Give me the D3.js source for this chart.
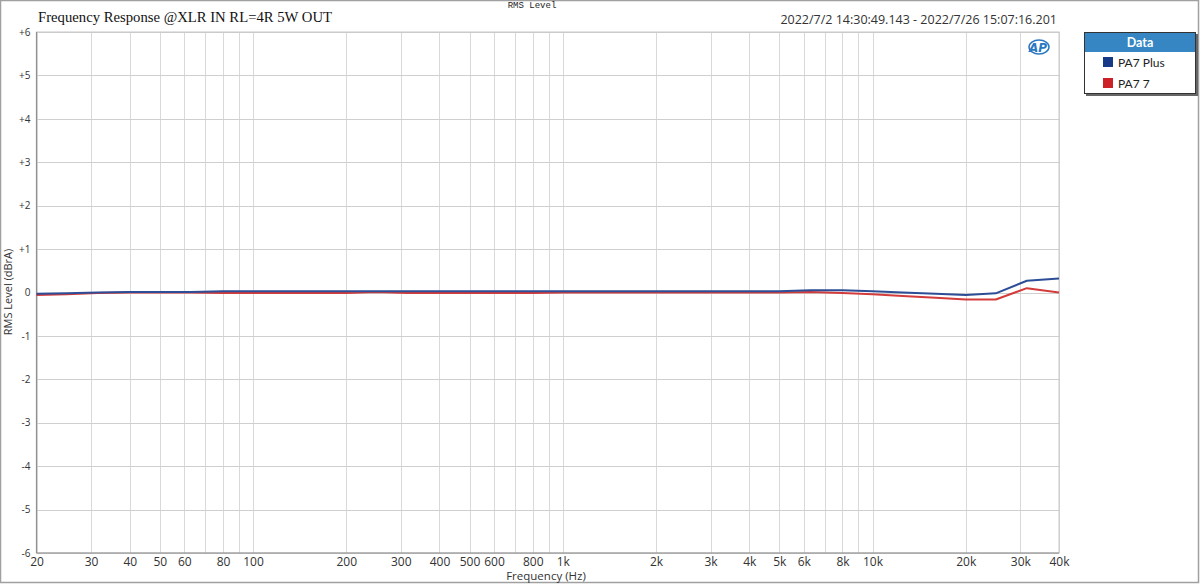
<!DOCTYPE html>
<html><head><meta charset="utf-8">
<script src="https://cdn.jsdelivr.net/npm/d3@7"></script>
<style>
html,body{margin:0;padding:0;background:#fff;}
svg{display:block;}
</style></head>
<body>
<svg id="chart" width="1200" height="585"></svg>
<script>
const freqs = [20,25,31.5,40,50,63,80,100,125,160,200,250,315,400,500,630,800,1000,1250,1600,2000,2500,3150,4000,5000,6300,8000,10000,12500,16000,20000,25000,31500,40000];
const pa7Plus = [-0.03,-0.02,0.0,0.01,0.01,0.01,0.03,0.03,0.03,0.03,0.03,0.03,0.03,0.03,0.03,0.03,0.03,0.03,0.03,0.03,0.03,0.03,0.03,0.03,0.03,0.05,0.05,0.03,0.0,-0.03,-0.06,-0.02,0.27,0.32];
const pa77 = [-0.06,-0.04,-0.01,0.0,0.0,0.0,-0.01,-0.01,-0.01,-0.01,-0.01,0.01,-0.01,-0.01,-0.01,-0.01,-0.01,0.0,0.0,0.0,0.0,0.0,0.0,0.0,0.0,0.01,-0.01,-0.04,-0.08,-0.12,-0.16,-0.16,0.10,0.0];
const xTicks = [20,30,40,50,60,80,100,200,300,400,500,600,800,1000,2000,3000,4000,5000,6000,8000,10000,20000,30000,40000];
const xTickLabels = ["20","30","40","50","60","80","100","200","300","400","500","600","800","1k","2k","3k","4k","5k","6k","8k","10k","20k","30k","40k"];
const xGrid = [20,30,40,50,60,70,80,90,100,200,300,400,500,600,700,800,900,1000,2000,3000,4000,5000,6000,7000,8000,9000,10000,20000,30000,40000];
const yTicks = [-6,-5,-4,-3,-2,-1,0,1,2,3,4,5,6];
const yTickLabels = ["-6","-5","-4","-3","-2","-1","0","+1","+2","+3","+4","+5","+6"];
const seriesNames = ["PA7 Plus","PA7 7"];
const seriesColors = ["#2d4e96","#d43b3b"];
const legendColors = ["#173a86","#cc2127"];

const svg = d3.select("#chart");
const L=36.5, R=1059, T=32, B=553;
const x = d3.scaleLog().domain([20,40000]).range([L,R]);
const y = d3.scaleLinear().domain([-6,6]).range([B,T]);

// outer frame
svg.append("rect").attr("x",0.5).attr("y",0.5).attr("width",1198).attr("height",582)
  .attr("fill","#fff").attr("stroke","#a0a0a0").attr("stroke-width",1.5);

// grid
const g = svg.append("g");
g.selectAll(".vg").data(xGrid).join("line")
  .attr("x1",d=>Math.round(x(d))+0.5).attr("x2",d=>Math.round(x(d))+0.5)
  .attr("y1",T).attr("y2",B).attr("stroke","#d9d9d9").attr("stroke-width",1);
g.selectAll(".hg").data(yTicks).join("line")
  .attr("x1",L).attr("x2",R)
  .attr("y1",d=>Math.round(y(d))+0.5).attr("y2",d=>Math.round(y(d))+0.5)
  .attr("stroke","#cfcfcf").attr("stroke-width",1);

// plot border
svg.append("rect").attr("x",L).attr("y",T).attr("width",R-L).attr("height",B-T)
  .attr("fill","none").attr("stroke","#c8c8c8");
svg.append("line").attr("x1",L).attr("x2",L).attr("y1",T).attr("y2",B).attr("stroke","#909090").attr("stroke-width",1.2);
svg.append("line").attr("x1",L).attr("x2",R).attr("y1",B).attr("y2",B).attr("stroke","#909090").attr("stroke-width",1.2);

// axes
const xAxis = d3.axisBottom(x).tickValues(xTicks).tickFormat((d,i)=>xTickLabels[i]).tickSize(0).tickPadding(4);
const xa = svg.append("g").attr("transform",`translate(0,${B})`).call(xAxis);
xa.select(".domain").remove();
xa.selectAll("text").attr("font-family","'Open Sans', 'Noto Sans', sans-serif").attr("font-size",12).attr("fill","#333");

const yAxis = d3.axisLeft(y).tickValues(yTicks).tickFormat((d,i)=>yTickLabels[i]).tickSize(0).tickPadding(6);
const ya = svg.append("g").attr("transform",`translate(${L},0)`).call(yAxis);
ya.select(".domain").remove();
ya.selectAll("text").attr("font-family","'Open Sans', 'Noto Sans', sans-serif").attr("font-size",10).attr("fill","#333");

// lines
const line = d3.line().x((d,i)=>x(freqs[i])).y(d=>y(d));
[pa77, pa7Plus].forEach((s,k)=>{
  const idx = k===0?1:0;
  svg.append("path").datum(s).attr("d",line).attr("fill","none")
    .attr("stroke",seriesColors[idx]).attr("stroke-width",2).attr("stroke-linejoin","round");
});

// titles
svg.append("text").attr("x",38).attr("y",22).text("Frequency Response @XLR IN RL=4R 5W OUT")
  .attr("font-family","'Liberation Serif', 'Times New Roman', serif").attr("font-size",14.7).attr("fill","#111");
svg.append("text").attr("x",532).attr("y",8).attr("text-anchor","middle").text("RMS Level")
  .attr("font-family","'Liberation Mono', 'DejaVu Sans Mono', monospace").attr("font-size",9).attr("fill","#222");
svg.append("text").attr("x",1057).attr("y",24).attr("text-anchor","end").text("2022/7/2 14:30:49.143 - 2022/7/26 15:07:16.201")
  .attr("font-family","'Open Sans', 'Noto Sans', sans-serif").attr("font-size",12.5).attr("fill","#333");
svg.append("text").attr("x",546).attr("y",580).attr("text-anchor","middle").text("Frequency (Hz)")
  .attr("font-family","'Open Sans', 'Noto Sans', sans-serif").attr("font-size",11.5).attr("fill","#333");
svg.append("text").attr("transform","translate(12,292) rotate(-90)").attr("text-anchor","middle").text("RMS Level (dBrA)")
  .attr("font-family","'Open Sans', 'Noto Sans', sans-serif").attr("font-size",11).attr("fill","#333");

// AP logo
const ap = svg.append("g").attr("transform","translate(1039,47)");
ap.append("ellipse").attr("cx",0).attr("cy",0).attr("rx",10).attr("ry",7).attr("fill","none").attr("stroke","#2a78c2").attr("stroke-width",1.5);
ap.append("text").attr("x",-1).attr("y",4.5).attr("text-anchor","middle").text("AP")
  .attr("font-family","'DejaVu Sans', sans-serif").attr("font-weight","bold").attr("font-style","italic").attr("font-size",12).attr("fill","#2a78c2");

// legend
const lg = svg.append("g");
lg.append("rect").attr("x",1086).attr("y",34).attr("width",112).attr("height",62).attr("fill","#666");
lg.append("rect").attr("x",1084.5).attr("y",32.5).attr("width",111).attr("height",61).attr("fill","#fff").attr("stroke","#333").attr("stroke-width",1);
lg.append("rect").attr("x",1085).attr("y",33).attr("width",110).attr("height",19).attr("fill","#3586c2");
lg.append("text").attr("x",1140).attr("y",47).attr("text-anchor","middle").text("Data")
  .attr("font-family","Lato, 'Open Sans', sans-serif").attr("font-weight","bold").attr("font-size",12.5).attr("fill","#fff");
seriesNames.forEach((n,i)=>{
  const yy = 62 + i*21;
  lg.append("rect").attr("x",1103).attr("y",yy-5).attr("width",10).attr("height",10).attr("fill",legendColors[i]);
  lg.append("text").attr("x",1118).attr("y",yy+4.5).text(n)
    .attr("font-family","Lato, 'Open Sans', sans-serif").attr("font-size",12).attr("fill","#222");
});
</script>
</body></html>
